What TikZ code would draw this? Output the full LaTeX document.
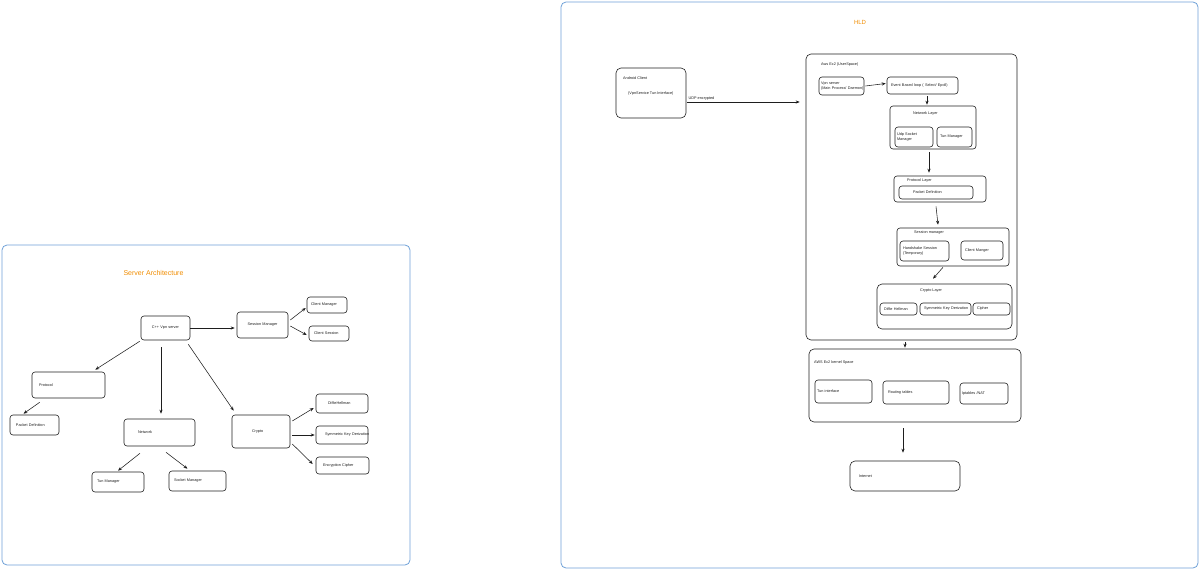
\documentclass[tikz,border=0pt]{standalone}
\usepackage{fontspec}
\setmainfont{Liberation Sans}
\usetikzlibrary{calc}
\usetikzlibrary{positioning}
\usetikzlibrary{arrows.meta}

\definecolor{ink}{RGB}{30,30,30}
\definecolor{framecol}{RGB}{110,160,215}
\definecolor{titlecol}{RGB}{240,140,0}

\begin{document}
\begin{tikzpicture}[x=1pt,y=-1pt,
    box/.style={draw=ink, line width=0.6pt, rounded corners=3pt, align=left, inner ysep=0pt, font=\fontsize{3.8}{4.6}\selectfont, text=ink},
    frame/.style={draw=framecol, line width=0.8pt, rounded corners=5pt},
    head/.style={anchor=west, inner sep=0pt, font=\fontsize{3.8}{4.6}\selectfont, text=ink},
    note/.style={inner sep=1pt, font=\fontsize{3.8}{4.6}\selectfont, text=ink},
    title/.style={text=titlecol, font=\fontsize{7}{8}\selectfont},
    arr/.style={-{Stealth[length=4pt,width=3.2pt]}, draw=ink, line width=0.55pt}]

    \useasboundingbox (0,0) rectangle (1200,570);

    \draw[frame] (2,245) rectangle (410,565);
    \draw[frame] (561,2) rectangle (1198,568);

    \node[title] (srvtitle) at (153.5,273) {Server Architecture};
    \node[title, font=\fontsize{6}{7}\selectfont] (hldtitle) at (860,22) {HLD};

    % server architecture
    \node[box, inner xsep=2, text width=45, align=center, minimum height=24] (srv) at (165.5,328) {C++ Vpn server};
    \node[box, inner xsep=2, text width=47, align=center, minimum height=26] (sess) at (262.5,325) {Session Manager};
    \node[box, inner xsep=4, text width=32, minimum height=16] (cmgr) at (327,305) {Client Manager};
    \node[box, inner xsep=5, text width=30, minimum height=15] (csess) at (329,333.5) {Client Session};
    \node[box, inner xsep=7, text width=59, minimum height=26] (proto) at (68.5,385) {Protocol};
    \node[box, inner xsep=6, text width=37, minimum height=20] (pkt) at (34.5,425) {Packet Definition};
    \node[box, inner xsep=14, text width=43, minimum height=27] (net) at (159.5,432.5) {Network};
    \node[box, inner xsep=5, text width=42, minimum height=20] (tun) at (118,482) {Tun Manager};
    \node[box, inner xsep=5, text width=47, minimum height=20] (sock) at (197.5,481) {Socket Manager};
    \node[box, inner xsep=20, text width=18, minimum height=33] (crypto) at (261,431.5) {Crypto};
    \node[box, inner xsep=12, text width=28, minimum height=19] (dh) at (342,403.5) {DiffieHellman};
    \node[box, inner xsep=9, text width=34, minimum height=18] (skd) at (342,435) {\mbox{Symmetric Key Derivation}};
    \node[box, inner xsep=7, text width=39, minimum height=17] (enc) at (342.5,465.5) {Encryption Cipher};

    \draw[arr] (srv.east) -- ($(srv.east -| sess.west)+(-2,0)$);
    \draw[arr] ([xshift=2pt,yshift=5pt]sess.east) -- ([xshift=-1pt,yshift=-3pt]cmgr.west);
    \draw[arr] ([xshift=2pt,yshift=-1pt]sess.east) -- ([xshift=-2pt,yshift=-1.5pt]csess.west);
    \draw[arr] ([xshift=-1pt,yshift=-1pt]srv.south west) -- ([xshift=-10pt,yshift=2pt]proto.north east);
    \draw[arr] ([xshift=-4.5pt,yshift=-7pt]srv.south) -- ([xshift=1.5pt,yshift=5pt]net.north);
    \draw[arr] ([xshift=-2pt,yshift=-4pt]srv.south east) -- ([xshift=2pt,yshift=4pt]crypto.north west);
    \draw[arr] ([xshift=8pt,yshift=-4pt]proto.south west) -- ([xshift=-11pt,yshift=1pt]pkt.north);
    \draw[arr] ([xshift=-19.5pt,yshift=-7pt]net.south) -- ([yshift=1pt]tun.north);
    \draw[arr] ([xshift=6.5pt,yshift=-6pt]net.south) -- ([xshift=-10pt,yshift=2pt]sock.north);
    \draw[arr] ([xshift=2pt,yshift=10.5pt]crypto.east) -- ([xshift=-2pt,yshift=-4.5pt]dh.west);
    \draw[arr] ($(crypto.east |- skd.west)+(2,0)$) -- ([xshift=-1pt]skd.west);
    \draw[arr] ([xshift=2pt,yshift=-12.5pt]crypto.east) -- ([xshift=-3pt,yshift=1.5pt]enc.west);

    % HLD
    \node[box, minimum width=70, minimum height=50, rounded corners=5pt] (andr) at (651,93) {};
    \node[head] (andrt) at (623,78) {Android Client};
    \node[head] (andrs) at (628,94) {(VpnService Tun Interface)};

    \node[box, minimum width=211, minimum height=286, rounded corners=5pt] (awsu) at (911.5,197) {};
    \node[head] (awsut) at (821,65) {Aws Ec2 (UserSpace)};
    \draw[arr] ($(andr.east)+(1,9)$) -- ($(andr.east -| awsu.west)+(-6,9)$)
        node[note, pos=0, above right] (udp) {UDP encrypted};

    \node[box, inner xsep=2, text width=41, minimum height=18] (vpns) at (841.5,86) {\mbox{Vpn server}\\\mbox{(Main Process/ Daemon)}};
    \node[box, inner xsep=4, text width=63, minimum height=17] (evl) at (922.5,85.5) {Event Based loop ( Select/ Epoll)};
    \draw[arr] ([xshift=1pt]vpns.east) -- ([xshift=-1pt,yshift=2pt]evl.west);

    \node[box, minimum width=86, minimum height=43] (netl) at (933,127.5) {};
    \node[head] (netlt) at (913,114) {Network Layer};
    \node[box, inner xsep=2, text width=34, minimum height=20] (udps) at (914,137) {Udp Socket\\Manager};
    \node[box, inner xsep=3, text width=29, minimum height=20] (tunm) at (954.5,137) {Tun Manager};
    \draw[arr] ([xshift=4.5pt,yshift=-2pt]evl.south) -- ([xshift=-6pt,yshift=1pt]netl.north);

    \node[box, minimum width=92, minimum height=26] (protl) at (940,189) {};
    \node[head] (protlt) at (907,181) {Protocol Layer};
    \node[box, inner xsep=14, text width=46, minimum height=13] (pktd) at (936,192.5) {Packet Definition};
    \draw[arr] ([xshift=-4pt,yshift=-3pt]netl.south) -- ([xshift=-11pt,yshift=3pt]protl.north);

    \node[box, minimum width=112, minimum height=38] (sessl) at (953,247) {};
    \node[head] (sesslt) at (914,233) {Session manager};
    \node[box, inner xsep=3, text width=43, minimum height=20] (hss) at (924.5,251) {Handshake Session\\(Temporary)};
    \node[box, inner xsep=4, text width=34, minimum height=19] (cmg) at (982,250.5) {Client Manger};
    \draw[arr] ([xshift=-4pt,yshift=-4pt]protl.south) -- ([xshift=-15pt,yshift=3pt]sessl.north);

    \node[box, minimum width=135, minimum height=45, rounded corners=5pt] (cryl) at (944.5,306.5) {};
    \node[head] (crylt) at (920,291) {Crypto Layer};
    \node[box, inner xsep=4, text width=29, minimum height=12] (dhl) at (898.5,309) {Diffie Hellman};
    \node[box, inner xsep=4, text width=43, minimum height=12] (skdl) at (945.5,309) {\mbox{Symmetric Key Derivation}};
    \node[box, inner xsep=4, text width=29, minimum height=12] (ciph) at (991.5,309) {Cipher};
    \draw[arr] ([xshift=-10pt,yshift=-1pt]sessl.south) -- ([xshift=-11.5pt,yshift=5pt]cryl.north);

    \node[box, minimum width=212, minimum height=73, rounded corners=5pt] (kern) at (915,385.5) {};
    \node[head] (kernt) at (814,363) {AWS Ec2 kernel Space};
    \node[box, inner xsep=2, text width=53, minimum height=23] (tuni) at (843.5,391.5) {Tun interface};
    \node[box, inner xsep=5, text width=56, minimum height=23] (rout) at (916,392.5) {Routing tables};
    \node[box, inner xsep=2, text width=44, minimum height=21] (ipt) at (984,393.5) {Iptables /NAT};
    \draw[arr] ([xshift=-6.5pt,yshift=-2pt]awsu.south) -- ([xshift=-10pt,yshift=1pt]kern.north);

    \node[box, inner xsep=9, text width=92, minimum height=30, rounded corners=5pt] (inet) at (905,476) {Internet};
    \draw[arr] ([xshift=-12pt,yshift=-6pt]kern.south) -- ([xshift=-2pt,yshift=8pt]inet.north);
\end{tikzpicture}
\end{document}
